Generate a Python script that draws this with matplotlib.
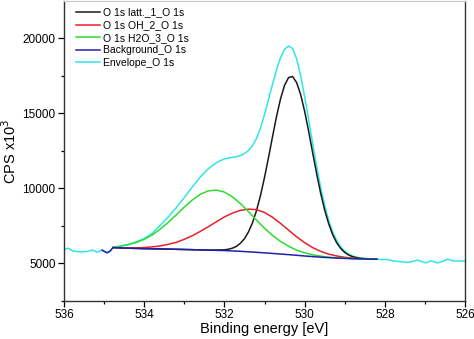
import matplotlib
matplotlib.use("Agg")
import matplotlib.pyplot as plt
from matplotlib.ticker import MultipleLocator

plt.rcParams["font.family"] = ["Liberation Sans", "DejaVu Sans"]

# binding energies (eV) and CPS values
env_ev = [536.0, 535.95, 535.9, 535.78, 535.6, 535.43, 535.28, 535.18, 535.05, 534.93,
          534.85, 534.78, 534.68, 534.6, 534.4, 534.2, 534.0, 533.8, 533.6, 533.4,
          533.2, 533.0, 532.8, 532.6, 532.4, 532.2, 532.0, 531.8, 531.7, 531.6,
          531.5, 531.4, 531.3, 531.2, 531.1, 531.0, 530.9, 530.8, 530.7, 530.6,
          530.5, 530.4, 530.3, 530.2, 530.1, 530.0, 529.9, 529.8, 529.7, 529.6,
          529.5, 529.4, 529.3, 529.2, 529.1, 529.0, 528.9, 528.8, 528.7, 528.6,
          528.4, 528.2, 528.1, 527.95, 527.78, 527.6, 527.43, 527.3, 527.18, 527.08,
          526.98, 526.85, 526.75, 526.68, 526.55, 526.43, 526.35, 526.28, 526.1, 526.0]
env_cps = [5870, 5950, 6000, 5820, 5750, 5780, 5870, 5730, 5870, 5690,
           5800, 6040, 6090, 6140, 6245, 6420, 6640, 7000, 7520, 8080,
           8700, 9380, 10080, 10750, 11300, 11700, 11950, 12050, 12100, 12180,
           12300, 12500, 12830, 13320, 14000, 14900, 15920, 16920, 17880, 18700,
           19250, 19470, 19300, 18620, 17520, 16120, 14560, 13000, 11460, 10060,
           8860, 7860, 7090, 6510, 6090, 5800, 5600, 5470, 5390, 5340,
           5290, 5270, 5240, 5250, 5150, 5100, 5050, 5120, 5200, 5110,
           5020, 5150, 5080, 5020, 5130, 5270, 5200, 5150, 5150, 5140]

bg_ev = [535.05, 534.93, 534.85, 534.78, 534.6, 534.4, 534.2, 534.0, 533.6,
         533.2, 532.8, 532.4, 532.0, 531.6, 531.2, 530.8, 530.4, 530.0, 529.6,
         529.2, 528.8, 528.4, 528.2]
bg_cps = [5870, 5690, 5800, 6040, 6020, 6000, 5985, 5970, 5950,
          5925, 5900, 5870, 5840, 5790, 5725, 5650, 5570, 5480, 5400,
          5340, 5300, 5275, 5265]

latt_ev = [534.78, 534.4, 534.0, 533.6, 533.2, 532.8, 532.4, 532.0, 531.9, 531.8,
           531.7, 531.6, 531.5, 531.4, 531.3, 531.2, 531.1, 531.0, 530.9, 530.8,
           530.7, 530.6, 530.5, 530.4, 530.3, 530.2, 530.1, 530.0, 529.9, 529.8,
           529.7, 529.6, 529.5, 529.4, 529.3, 529.2, 529.1, 529.0, 528.9, 528.8,
           528.7, 528.6, 528.4, 528.2]
latt_cps = [6040, 6000, 5970, 5950, 5925, 5900, 5870, 5890, 5930, 6000,
            6120, 6330, 6630, 7080, 7690, 8500, 9510, 10710, 12040, 13430,
            14780, 15950, 16850, 17370, 17440, 17040, 16250, 15130, 13800, 12370,
            10970, 9670, 8550, 7630, 6900, 6360, 5980, 5720, 5540, 5430,
            5370, 5320, 5280, 5265]

comp_ev = [534.78, 534.6, 534.4, 534.2, 534.0, 533.8, 533.6, 533.4, 533.2, 533.0,
           532.8, 532.6, 532.4, 532.2, 532.0, 531.8, 531.6, 531.4, 531.2, 531.0,
           530.8, 530.6, 530.4, 530.2, 530.0, 529.8, 529.6, 529.4, 529.2, 529.0,
           528.8, 528.6, 528.4, 528.2]
oh_cps = [6040, 6025, 6015, 6020, 6040, 6085, 6150, 6255, 6390, 6590,
          6830, 7120, 7430, 7760, 8080, 8340, 8520, 8600, 8570, 8380,
          8060, 7650, 7200, 6760, 6370, 6040, 5790, 5600, 5480, 5390,
          5340, 5300, 5280, 5265]
h2o_cps = [6060, 6130, 6230, 6380, 6590, 6880, 7270, 7720, 8220, 8740,
           9210, 9590, 9820, 9870, 9740, 9420, 8970, 8440, 7870, 7330,
           6850, 6450, 6130, 5870, 5690, 5560, 5470, 5400, 5360, 5330,
           5300, 5285, 5275, 5265]

fig = plt.figure(figsize=(4.74, 3.39), dpi=100)
ax = fig.add_axes([64 / 474, 38 / 339, 401 / 474, 300 / 339])

lw = 1.1
l_env, = ax.plot(env_ev, env_cps, color="#2ee6e6", lw=lw, zorder=2, label="Envelope_O 1s")
l_latt, = ax.plot(latt_ev, latt_cps, color="#1a1a1a", lw=lw, zorder=3, label="O 1s latt._1_O 1s")
l_oh, = ax.plot(comp_ev, oh_cps, color="#e8202a", lw=lw, zorder=4, label="O 1s OH_2_O 1s")
l_h2o, = ax.plot(comp_ev, h2o_cps, color="#2edc2e", lw=lw, zorder=5, label="O 1s H2O_3_O 1s")
l_bg, = ax.plot(bg_ev, bg_cps, color="#2020b0", lw=lw, zorder=6, label="Background_O 1s")

ax.set_xlim(536, 526)
ax.set_ylim(2480, 22470)
ax.xaxis.set_major_locator(MultipleLocator(2))
ax.xaxis.set_minor_locator(MultipleLocator(1))
ax.yaxis.set_major_locator(MultipleLocator(5000))
ax.yaxis.set_minor_locator(MultipleLocator(2500))
ax.tick_params(which="major", direction="out", length=4, width=0.9, labelsize=8.5, pad=2)
ax.tick_params(which="minor", direction="out", length=2.5, width=0.9)
for side in ["left", "bottom", "right"]:
    ax.spines[side].set_linewidth(1.0)
    ax.spines[side].set_color("#333333")
ax.spines["top"].set_color("#c8c8c8")

ax.set_xlabel("Binding energy [eV]", fontsize=10.5)
ax.set_ylabel("CPS x10$^3$", fontsize=10.5)
ax.xaxis.set_label_coords(0.5, -0.07)
ax.yaxis.set_label_coords(-0.112, 0.5)

ax.legend(handles=[l_latt, l_oh, l_h2o, l_bg, l_env], loc="upper left",
          bbox_to_anchor=(0.03, 0.978), frameon=False, fontsize=7.5,
          handlelength=2.3, handletextpad=0.3, labelspacing=0.25,
          borderpad=0, borderaxespad=0)

fig.savefig("out.png", dpi=100)
